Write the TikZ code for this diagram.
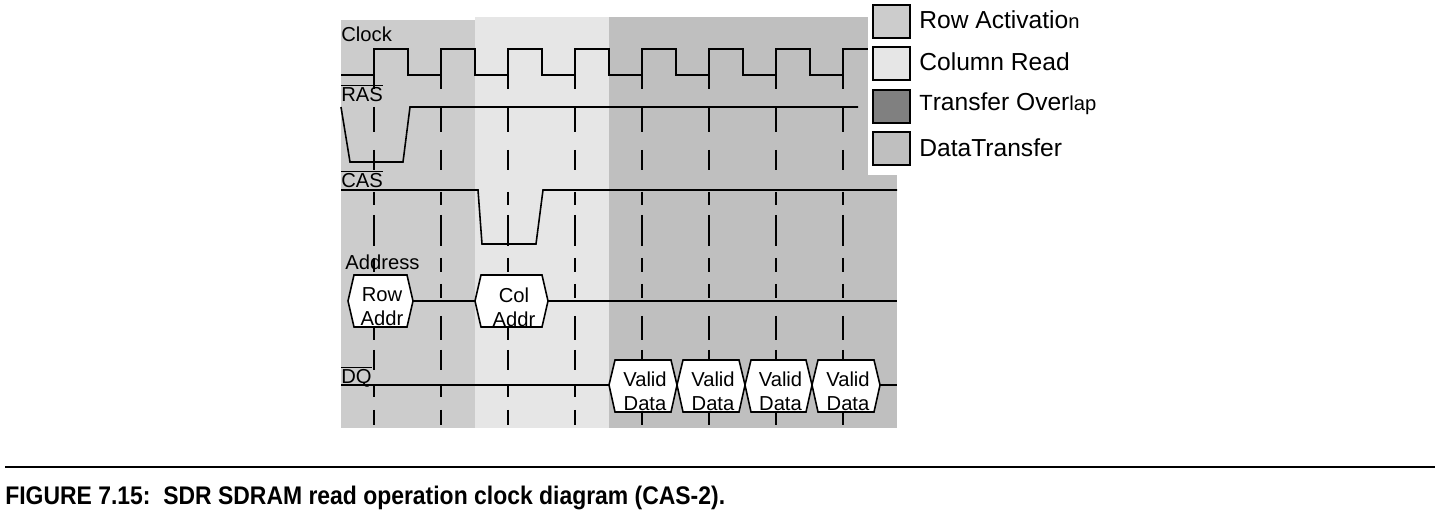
\documentclass[tikz,border=0pt]{standalone}
\usepackage{fontspec}
\setmainfont{Liberation Sans}
\usepackage{graphicx}
\begin{document}
\begin{tikzpicture}[x=0.02cm,y=-0.02cm,
  sig/.style={line width=0.9pt,line join=miter},
  lbl/.style={anchor=base west,inner sep=0pt,font=\fontsize{11.5}{12}\selectfont},
  hx/.style={fill=white,draw,line width=0.9pt},
  ht/.style={align=center,font=\fontsize{11.5}{13.5}\selectfont,inner sep=0pt},
  leg/.style={draw,line width=1pt},
  legt/.style={anchor=west,inner sep=0pt,font=\fontsize{14}{16}\selectfont}]
\useasboundingbox (0,0) rectangle (1440,519);
% backgrounds
\fill[fill={rgb,255:red,204;green,204;blue,204}] (341,20) rectangle (475,428);
\fill[fill={rgb,255:red,230;green,230;blue,230}] (475,17) rectangle (609,428);
\fill[fill={rgb,255:red,191;green,191;blue,191}] (609,17) rectangle (897,428);
\fill[white] (868,0) rectangle (1120,175);
% ticks
\foreach \x in {374,441,508,575,642,709,776,843}{
  \foreach \a/\b in {75/89,107/132,150/170,192/205,215/246,258/272,284/298,316/340,350/370,385/397,410/425}
    \draw[line width=0.9pt] (\x,\a) -- (\x,\b);
}
% clock
\draw[sig] (341,75) -- (374,75) -- (374,49) -- (408,49) -- (408,75) -- (441,75) -- (441,49) -- (475,49) -- (475,75)
  -- (508,75) -- (508,49) -- (542,49) -- (542,75) -- (575,75) -- (575,49) -- (609,49) -- (609,75)
  -- (642,75) -- (642,49) -- (676,49) -- (676,75) -- (709,75) -- (709,49) -- (743,49) -- (743,75)
  -- (776,75) -- (776,49) -- (810,49) -- (810,75) -- (843,75) -- (843,49) -- (868,49);
\node[lbl] (clk) at (341,42) {Clock};
% RAS
\draw[sig] (341,107) -- (350,162) -- (403,162) -- (410,107) -- (858,107);
\node[lbl] (ras) at (341,102) {$\overline{\mbox{RAS}}$};
% CAS
\draw[sig] (341,190) -- (478,190) -- (482,244) -- (536,244) -- (543,190) -- (897,190);
\node[lbl] (cas) at (341,188) {$\overline{\mbox{CAS}}$};
% Address
\node[lbl] (addr) at (345,270) {Address};
\draw[hx] (348,301) -- (354,275) -- (407,275) -- (413,301) -- (407,327) -- (354,327) -- cycle;
\node[ht] (ra) at (382,307) {Row\\Addr};
\draw[hx] (475,301) -- (481,275) -- (542,275) -- (548,301) -- (542,327) -- (481,327) -- cycle;
\node[ht] (ca) at (514,307) {Col\\Addr};
\draw[sig] (413,301) -- (475,301);
\draw[sig] (548,301) -- (897,301);
% DQ
\node[lbl] (dq) at (341,384) {$\overline{\mbox{DQ}}$};
\draw[sig] (341,385) -- (609,385);
\foreach \l/\r [count=\i] in {609/677,677/745,745/812,812/880}{
  \draw[hx] (\l,385) -- (\l+6,360) -- (\r-6,360) -- (\r,385) -- (\r-6,412) -- (\l+6,412) -- cycle;
  \node[ht] (vd\i) at ({(\l+\r)/2+2},391) {Valid\\Data};
}
\draw[sig] (880,385) -- (897,385);
% legend
\draw[leg,fill={rgb,255:red,204;green,204;blue,204}] (873,5) rectangle (910,38);
\draw[leg,fill={rgb,255:red,230;green,230;blue,230}] (873,47) rectangle (910,80);
\draw[leg,fill={rgb,255:red,128;green,128;blue,128}] (873,90) rectangle (910,123);
\draw[leg,fill={rgb,255:red,191;green,191;blue,191}] (873,132) rectangle (910,165);
\node[legt] (l1) at (919,20) {Row Activatio{\fontsize{11.5}{12}\selectfont n}};
\node[legt] (l2) at (919,62) {Column Read};
\node[legt] (l3) at (919,104) {{\fontsize{12.5}{12}\selectfont T}ransfer Over{\fontsize{11.5}{12}\selectfont lap}};
\node[legt] (l4) at (919,148) {DataTransfer};
% caption
\draw[line width=0.8pt] (5,467) -- (1435,467);
\node[anchor=west,inner sep=0pt] (cap) at (5,498) {\scalebox{0.9}[1]{\fontsize{14.5}{16}\selectfont\bfseries FIGURE 7.15:\ \ SDR SDRAM read operation clock diagram (CAS-2).}};
\end{tikzpicture}
\end{document}
